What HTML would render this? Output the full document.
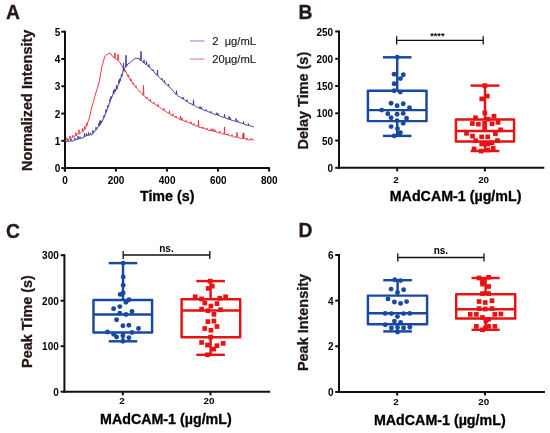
<!DOCTYPE html>
<html><head><meta charset="utf-8"><style>
html,body{margin:0;padding:0;background:#fff;}
svg{display:block;font-family:"Liberation Sans", sans-serif;will-change:transform;}
</style></head><body>
<svg width="550" height="433" viewBox="0 0 550 433">
<rect width="550" height="433" fill="#fff"/>
<text x="6.00" y="18.80" font-size="19.3" font-weight="bold" text-anchor="start" fill="#231815" stroke="#231815" stroke-width="0.3">A</text>
<text x="298.40" y="18.90" font-size="19.3" font-weight="bold" text-anchor="start" fill="#231815" stroke="#231815" stroke-width="0.3">B</text>
<text x="6.10" y="237.70" font-size="19.3" font-weight="bold" text-anchor="start" fill="#231815" stroke="#231815" stroke-width="0.3">C</text>
<text x="298.40" y="237.40" font-size="19.3" font-weight="bold" text-anchor="start" fill="#231815" stroke="#231815" stroke-width="0.3">D</text>
<line x1="65.00" y1="30.70" x2="65.00" y2="171.60" stroke="#111111" stroke-width="2" stroke-linecap="butt"/>
<line x1="64.00" y1="168.10" x2="269.90" y2="168.10" stroke="#111111" stroke-width="2" stroke-linecap="butt"/>
<line x1="61.30" y1="168.10" x2="65.00" y2="168.10" stroke="#111111" stroke-width="2" stroke-linecap="butt"/>
<text x="60.30" y="172.10" font-size="10" font-weight="bold" text-anchor="end" fill="#000000">0</text>
<line x1="61.30" y1="140.82" x2="65.00" y2="140.82" stroke="#111111" stroke-width="2" stroke-linecap="butt"/>
<text x="60.30" y="144.82" font-size="10" font-weight="bold" text-anchor="end" fill="#000000">1</text>
<line x1="61.30" y1="113.54" x2="65.00" y2="113.54" stroke="#111111" stroke-width="2" stroke-linecap="butt"/>
<text x="60.30" y="117.54" font-size="10" font-weight="bold" text-anchor="end" fill="#000000">2</text>
<line x1="61.30" y1="86.26" x2="65.00" y2="86.26" stroke="#111111" stroke-width="2" stroke-linecap="butt"/>
<text x="60.30" y="90.26" font-size="10" font-weight="bold" text-anchor="end" fill="#000000">3</text>
<line x1="61.30" y1="58.98" x2="65.00" y2="58.98" stroke="#111111" stroke-width="2" stroke-linecap="butt"/>
<text x="60.30" y="62.98" font-size="10" font-weight="bold" text-anchor="end" fill="#000000">4</text>
<line x1="61.30" y1="31.70" x2="65.00" y2="31.70" stroke="#111111" stroke-width="2" stroke-linecap="butt"/>
<text x="60.30" y="35.70" font-size="10" font-weight="bold" text-anchor="end" fill="#000000">5</text>
<line x1="64.80" y1="168.10" x2="64.80" y2="171.60" stroke="#111111" stroke-width="2" stroke-linecap="butt"/>
<text x="65.00" y="183.50" font-size="10" font-weight="bold" text-anchor="middle" fill="#000000">0</text>
<line x1="115.88" y1="168.10" x2="115.88" y2="171.60" stroke="#111111" stroke-width="2" stroke-linecap="butt"/>
<text x="116.08" y="183.50" font-size="10" font-weight="bold" text-anchor="middle" fill="#000000">200</text>
<line x1="166.95" y1="168.10" x2="166.95" y2="171.60" stroke="#111111" stroke-width="2" stroke-linecap="butt"/>
<text x="167.15" y="183.50" font-size="10" font-weight="bold" text-anchor="middle" fill="#000000">400</text>
<line x1="218.03" y1="168.10" x2="218.03" y2="171.60" stroke="#111111" stroke-width="2" stroke-linecap="butt"/>
<text x="218.23" y="183.50" font-size="10" font-weight="bold" text-anchor="middle" fill="#000000">600</text>
<line x1="269.10" y1="168.10" x2="269.10" y2="171.60" stroke="#111111" stroke-width="2" stroke-linecap="butt"/>
<text x="269.30" y="183.50" font-size="10" font-weight="bold" text-anchor="middle" fill="#000000">800</text>
<text x="167.20" y="201.00" font-size="14.3" font-weight="bold" text-anchor="middle" fill="#000000" stroke="#000000" stroke-width="0.3">Time (s)</text>
<text x="32.20" y="100.30" font-size="14.45" font-weight="bold" text-anchor="middle" fill="#231815" stroke="#231815" stroke-width="0.3" transform="rotate(-90 32.20 100.30)">Normalized Intensity</text>
<line x1="190.00" y1="41.00" x2="204.50" y2="41.00" stroke="#7d80cc" stroke-width="1" stroke-linecap="butt"/>
<line x1="190.00" y1="59.10" x2="204.50" y2="59.10" stroke="#f0707a" stroke-width="1" stroke-linecap="butt"/>
<text x="212.20" y="45.30" font-size="11.2" font-weight="normal" text-anchor="start" fill="#151515" stroke="#151515" stroke-width="0.12">2&#160;&#160;µg/mL</text>
<text x="212.20" y="63.00" font-size="11.2" font-weight="normal" text-anchor="start" fill="#151515" stroke="#151515" stroke-width="0.12">20µg/mL</text>
<polyline points="65.00,140.38 65.90,139.99 66.65,139.90 67.00,137.90 67.35,139.90 68.60,139.45 69.65,139.00 70.00,136.00 70.35,139.00 71.30,138.26 72.20,137.42 72.65,137.29 73.00,135.29 73.35,137.29 74.00,136.41 74.90,135.91 75.65,135.57 76.00,132.57 76.35,135.57 77.60,134.38 78.65,133.80 79.00,129.80 79.35,133.80 80.30,133.33 81.20,132.53 82.15,131.50 82.50,128.50 82.85,131.50 84.15,129.50 84.50,126.50 84.85,129.50 85.70,127.83 86.15,125.90 86.50,123.40 86.85,125.90 87.50,123.03 88.40,120.67 89.30,118.32 90.20,114.58 91.10,109.71 92.00,106.60 92.90,103.26 93.80,100.23 94.70,96.74 95.60,93.74 96.50,90.92 97.40,88.33 98.30,85.22 99.20,81.74 100.10,76.83 101.00,71.63 101.90,66.43 102.80,63.41 103.70,60.19 104.60,57.02 105.50,55.68 106.40,54.97 107.30,54.58 108.20,53.94 109.10,53.09 110.00,53.67 110.90,53.67 111.80,55.14 112.70,56.73 113.60,57.16 114.65,58.33 115.00,52.83 115.35,58.33 116.30,59.32 117.20,59.99 117.65,60.33 118.00,54.33 118.35,60.33 119.00,61.26 119.90,62.37 120.80,64.14 121.70,65.57 122.60,67.06 123.50,68.47 124.40,70.24 125.15,71.83 125.50,70.33 125.85,71.83 127.10,74.61 128.15,76.83 128.50,74.83 128.85,76.83 129.80,79.10 130.65,81.00 131.00,79.00 131.35,81.00 132.50,82.85 133.15,84.33 133.50,82.83 133.85,84.33 134.30,85.47 135.20,86.07 135.65,87.33 136.00,85.83 136.35,87.33 137.00,88.27 137.90,89.28 138.80,90.29 139.70,91.84 140.60,92.34 141.50,93.32 142.40,94.32 143.15,95.45 143.50,85.45 143.85,95.45 145.10,96.85 146.00,97.73 146.65,98.53 147.00,97.03 147.35,98.53 147.80,99.41 148.70,100.18 149.60,100.51 150.15,101.35 150.50,99.35 150.85,101.35 151.40,101.88 152.30,102.88 153.20,103.56 153.65,103.80 154.00,102.30 154.35,103.80 155.00,104.27 155.90,104.89 156.80,105.47 157.65,106.42 158.00,104.42 158.35,106.42 159.50,107.21 160.40,107.62 161.30,108.50 162.20,109.06 163.10,109.79 163.65,110.34 164.00,108.34 164.35,110.34 164.90,111.07 165.80,111.49 166.70,112.10 167.60,112.68 168.50,112.79 169.15,113.70 169.50,110.70 169.85,113.70 170.30,114.38 171.20,114.98 172.10,115.47 172.65,115.80 173.00,113.80 173.35,115.80 173.90,116.27 174.80,116.60 175.65,117.50 176.00,116.00 176.35,117.50 177.50,117.95 178.40,118.50 179.30,118.91 180.15,119.70 180.50,116.20 180.85,119.70 181.65,120.30 182.00,117.80 182.35,120.30 182.90,120.42 183.80,120.74 184.70,121.28 185.65,121.86 186.00,120.36 186.35,121.86 187.40,122.44 188.30,122.44 189.20,122.84 190.10,123.24 190.65,123.74 191.00,121.74 191.35,123.74 191.90,123.87 192.80,124.78 193.65,125.06 194.00,123.56 194.35,125.06 195.50,125.69 196.40,125.77 197.30,126.14 198.15,126.90 198.50,120.40 198.85,126.90 200.00,127.73 200.90,127.53 201.80,127.71 202.65,128.40 203.00,126.90 203.35,128.40 204.50,128.60 205.40,129.15 206.65,129.60 207.00,128.10 207.35,129.60 208.10,130.26 209.00,130.45 209.90,130.61 210.65,130.74 211.00,128.74 211.35,130.74 212.65,131.22 213.00,128.72 213.35,131.22 214.65,131.70 215.00,129.70 215.35,131.70 216.20,131.89 217.10,132.05 218.00,132.70 218.90,133.05 219.65,133.00 220.00,131.00 220.35,133.00 221.60,133.70 222.50,133.92 223.40,133.83 224.15,134.35 224.50,126.85 224.85,134.35 226.10,134.39 227.00,134.57 227.65,135.10 228.00,133.60 228.35,135.10 228.80,135.09 229.70,135.57 230.60,136.00 231.65,136.10 232.00,134.60 232.35,136.10 233.30,136.83 234.20,137.08 235.10,136.93 236.00,137.00 236.65,137.40 237.00,132.40 237.35,137.40 237.80,137.35 238.70,137.53 239.60,138.01 240.50,138.38 241.40,138.52 242.65,138.60 243.00,133.60 243.35,138.60 243.45,138.76 243.80,132.76 244.15,138.76 245.00,138.71 245.90,139.29 246.65,139.40 247.00,137.90 247.35,139.40 248.60,139.90 249.50,139.88 250.65,139.89 251.00,138.39 251.35,139.89 252.20,139.64 253.10,139.87 254.00,139.89" fill="none" stroke="#ee3340" stroke-width="1" stroke-linejoin="round"/>
<polyline points="65.00,141.59 65.90,141.60 66.80,141.58 67.65,141.29 68.00,139.79 68.35,141.29 69.50,141.47 70.65,141.07 71.00,139.07 71.35,141.07 72.20,141.25 73.10,140.77 74.00,140.68 74.65,140.10 75.00,138.10 75.35,140.10 75.80,139.84 76.70,139.41 77.65,139.20 78.00,136.20 78.35,139.20 79.65,138.60 80.00,136.60 80.35,138.60 81.20,138.09 82.10,138.25 83.00,137.75 84.15,136.90 84.50,133.40 84.85,136.90 85.70,136.12 86.15,136.02 86.50,133.52 86.85,136.02 87.50,135.41 88.15,135.41 88.50,132.41 88.85,135.41 89.30,135.46 90.15,134.89 90.50,132.89 90.85,134.89 92.00,134.84 92.65,133.33 93.00,130.33 93.35,133.33 93.80,132.25 94.70,131.67 95.65,129.75 96.00,127.25 96.35,129.75 97.40,127.79 98.65,126.00 99.00,123.00 99.35,126.00 99.65,124.57 100.00,120.57 100.35,124.57 100.65,123.14 101.00,120.64 101.35,123.14 101.90,121.72 102.80,120.17 103.65,117.33 104.00,115.33 104.35,117.33 105.65,112.44 106.00,109.44 106.35,112.44 107.65,107.14 108.00,105.14 108.35,107.14 109.10,104.12 109.65,101.43 110.00,98.93 110.35,101.43 110.65,98.90 111.00,96.40 111.35,98.90 111.80,97.36 112.70,95.15 113.15,93.75 113.50,90.25 113.85,93.75 114.65,91.50 115.00,89.00 115.35,91.50 116.15,89.25 116.50,85.25 116.85,89.25 118.10,85.28 118.65,83.25 119.00,80.25 119.35,83.25 119.45,81.15 119.80,78.65 120.15,81.15 121.15,76.58 121.50,74.08 121.85,76.58 122.60,73.37 123.15,70.92 123.50,62.92 123.85,70.92 124.40,68.61 125.65,66.75 126.00,55.25 126.35,66.75 127.10,65.56 128.00,63.79 128.90,63.46 129.80,62.86 130.70,62.15 131.60,61.01 132.50,60.30 133.40,59.75 134.30,59.33 135.20,58.26 136.10,58.19 137.00,58.37 137.90,58.57 138.80,58.14 139.70,59.86 140.65,60.75 141.00,51.25 141.35,60.75 142.40,61.84 143.65,62.83 144.00,59.83 144.35,62.83 145.10,63.88 146.15,64.75 146.50,61.25 146.85,64.75 147.80,65.71 148.65,67.00 149.00,64.50 149.35,67.00 150.50,68.25 151.40,69.53 152.65,71.00 153.00,69.50 153.35,71.00 154.10,71.78 155.00,73.34 155.90,73.92 157.15,75.50 157.50,70.00 157.85,75.50 158.60,76.67 159.50,77.73 160.40,78.37 161.65,80.00 162.00,78.50 162.35,80.00 163.10,81.39 164.15,82.50 164.50,80.50 164.85,82.50 165.80,84.04 166.70,84.35 167.60,85.56 168.15,86.19 168.50,84.19 168.85,86.19 169.40,87.07 170.30,88.05 171.20,88.62 172.10,89.90 173.00,90.75 173.90,92.23 174.80,92.84 175.70,93.94 176.15,94.64 176.50,90.64 176.85,94.64 177.50,95.56 178.40,96.25 179.30,96.49 180.20,97.13 181.10,97.93 182.00,98.39 182.65,99.10 183.00,97.10 183.35,99.10 183.80,99.59 184.70,100.04 185.60,100.77 186.65,101.70 187.00,99.70 187.35,101.70 188.30,102.57 189.20,103.02 190.10,103.44 191.00,103.71 191.90,104.29 193.15,105.25 193.50,99.75 193.85,105.25 194.60,105.70 195.50,106.45 196.40,106.89 197.30,107.29 198.20,107.71 199.10,108.23 199.65,108.50 200.00,106.50 200.35,108.50 201.15,109.10 201.50,107.10 201.85,109.10 202.70,109.57 203.60,110.13 204.50,110.43 205.65,110.90 206.00,109.40 206.35,110.90 207.20,111.48 208.10,111.80 209.00,111.76 209.90,112.49 210.65,112.86 211.00,111.36 211.35,112.86 212.60,113.41 213.50,113.98 214.40,114.19 215.30,114.61 216.15,114.81 216.50,112.81 216.85,114.81 217.65,115.32 218.00,113.32 218.35,115.32 218.90,115.86 219.80,115.83 220.70,116.49 221.60,116.83 222.50,117.03 223.40,117.56 224.15,117.62 224.50,114.12 224.85,117.62 226.10,118.24 227.00,118.33 227.90,119.14 228.65,119.32 229.00,116.32 229.35,119.32 230.15,119.85 230.50,117.85 230.85,119.85 231.50,120.30 232.40,120.58 233.30,120.46 234.20,121.16 235.10,121.29 235.65,121.50 236.00,118.50 236.35,121.50 236.90,121.71 237.65,122.10 238.00,120.60 238.35,122.10 239.60,122.68 240.50,123.04 241.40,122.90 242.30,123.34 243.15,124.03 243.50,121.53 243.85,124.03 245.00,124.40 245.90,124.98 246.80,125.20 247.70,125.04 248.15,125.58 248.50,123.58 248.85,125.58 249.50,125.67 250.40,125.80 251.30,126.12 252.20,126.51 253.10,126.67 254.00,126.94" fill="none" stroke="#3a3d9c" stroke-width="1" stroke-linejoin="round"/>
<line x1="339.00" y1="30.50" x2="339.00" y2="168.80" stroke="#111111" stroke-width="2" stroke-linecap="butt"/>
<line x1="338.00" y1="167.80" x2="544.30" y2="167.80" stroke="#111111" stroke-width="2" stroke-linecap="butt"/>
<line x1="335.20" y1="167.80" x2="339.00" y2="167.80" stroke="#111111" stroke-width="2" stroke-linecap="butt"/>
<text x="333.10" y="171.80" font-size="10" font-weight="bold" text-anchor="end" fill="#000000">0</text>
<line x1="335.20" y1="140.54" x2="339.00" y2="140.54" stroke="#111111" stroke-width="2" stroke-linecap="butt"/>
<text x="333.10" y="144.54" font-size="10" font-weight="bold" text-anchor="end" fill="#000000">50</text>
<line x1="335.20" y1="113.28" x2="339.00" y2="113.28" stroke="#111111" stroke-width="2" stroke-linecap="butt"/>
<text x="333.10" y="117.28" font-size="10" font-weight="bold" text-anchor="end" fill="#000000">100</text>
<line x1="335.20" y1="86.02" x2="339.00" y2="86.02" stroke="#111111" stroke-width="2" stroke-linecap="butt"/>
<text x="333.10" y="90.02" font-size="10" font-weight="bold" text-anchor="end" fill="#000000">150</text>
<line x1="335.20" y1="58.76" x2="339.00" y2="58.76" stroke="#111111" stroke-width="2" stroke-linecap="butt"/>
<text x="333.10" y="62.76" font-size="10" font-weight="bold" text-anchor="end" fill="#000000">200</text>
<line x1="335.20" y1="31.50" x2="339.00" y2="31.50" stroke="#111111" stroke-width="2" stroke-linecap="butt"/>
<text x="333.10" y="35.50" font-size="10" font-weight="bold" text-anchor="end" fill="#000000">250</text>
<line x1="397.20" y1="167.80" x2="397.20" y2="171.40" stroke="#111111" stroke-width="2" stroke-linecap="butt"/>
<text x="396.00" y="183.40" font-size="9.8" font-weight="bold" text-anchor="middle" fill="#000000">2</text>
<line x1="484.90" y1="167.80" x2="484.90" y2="171.40" stroke="#111111" stroke-width="2" stroke-linecap="butt"/>
<text x="483.60" y="183.40" font-size="9.8" font-weight="bold" text-anchor="middle" fill="#000000">20</text>
<text x="455.60" y="200.80" font-size="14.25" font-weight="bold" text-anchor="middle" fill="#000000" stroke="#000000" stroke-width="0.3">MAdCAM-1 (µg/mL)</text>
<text x="307.90" y="100.60" font-size="14.45" font-weight="bold" text-anchor="middle" fill="#231815" stroke="#231815" stroke-width="0.3" transform="rotate(-90 307.90 100.60)">Delay Time (s)</text>
<line x1="396.65" y1="40.45" x2="483.20" y2="40.45" stroke="#111111" stroke-width="1.3" stroke-linecap="butt"/>
<line x1="396.65" y1="36.35" x2="396.65" y2="44.55" stroke="#111111" stroke-width="1.3" stroke-linecap="butt"/>
<line x1="483.20" y1="36.35" x2="483.20" y2="44.55" stroke="#111111" stroke-width="1.3" stroke-linecap="butt"/>
<text x="437.32" y="38.90" font-size="9.2" font-weight="bold" text-anchor="middle" fill="#000000">****</text>
<line x1="397.20" y1="57.30" x2="397.20" y2="90.70" stroke="#1848a0" stroke-width="2.45" stroke-linecap="butt"/>
<line x1="397.20" y1="121.10" x2="397.20" y2="135.90" stroke="#1848a0" stroke-width="2.45" stroke-linecap="butt"/>
<line x1="382.95" y1="57.30" x2="411.45" y2="57.30" stroke="#1848a0" stroke-width="2.45" stroke-linecap="butt"/>
<line x1="382.95" y1="135.90" x2="411.45" y2="135.90" stroke="#1848a0" stroke-width="2.45" stroke-linecap="butt"/>
<rect x="367.90" y="90.70" width="58.60" height="30.40" fill="none" stroke="#1848a0" stroke-width="2.45" stroke-linejoin="round"/>
<line x1="367.90" y1="110.10" x2="426.50" y2="110.10" stroke="#1848a0" stroke-width="2.45" stroke-linecap="butt"/>
<circle cx="397.20" cy="57.30" r="2.45" fill="#1848a0"/>
<circle cx="394.10" cy="74.20" r="2.45" fill="#1848a0"/>
<circle cx="403.30" cy="74.80" r="2.45" fill="#1848a0"/>
<circle cx="400.50" cy="78.60" r="2.45" fill="#1848a0"/>
<circle cx="394.10" cy="83.70" r="2.45" fill="#1848a0"/>
<circle cx="394.10" cy="90.70" r="2.45" fill="#1848a0"/>
<circle cx="400.30" cy="92.10" r="2.45" fill="#1848a0"/>
<circle cx="391.10" cy="103.20" r="2.45" fill="#1848a0"/>
<circle cx="397.10" cy="105.80" r="2.45" fill="#1848a0"/>
<circle cx="403.20" cy="103.80" r="2.45" fill="#1848a0"/>
<circle cx="409.50" cy="107.80" r="2.45" fill="#1848a0"/>
<circle cx="381.70" cy="110.10" r="2.45" fill="#1848a0"/>
<circle cx="387.80" cy="113.70" r="2.45" fill="#1848a0"/>
<circle cx="397.10" cy="114.20" r="2.45" fill="#1848a0"/>
<circle cx="403.20" cy="113.40" r="2.45" fill="#1848a0"/>
<circle cx="391.10" cy="117.70" r="2.45" fill="#1848a0"/>
<circle cx="406.50" cy="118.20" r="2.45" fill="#1848a0"/>
<circle cx="397.10" cy="120.70" r="2.45" fill="#1848a0"/>
<circle cx="403.20" cy="123.20" r="2.45" fill="#1848a0"/>
<circle cx="391.10" cy="126.60" r="2.45" fill="#1848a0"/>
<circle cx="397.50" cy="128.80" r="2.45" fill="#1848a0"/>
<circle cx="400.40" cy="132.80" r="2.45" fill="#1848a0"/>
<circle cx="394.20" cy="135.90" r="2.45" fill="#1848a0"/>
<circle cx="398.50" cy="134.50" r="2.45" fill="#1848a0"/>
<line x1="485.00" y1="85.60" x2="485.00" y2="119.50" stroke="#e81212" stroke-width="2.45" stroke-linecap="butt"/>
<line x1="485.00" y1="141.50" x2="485.00" y2="151.00" stroke="#e81212" stroke-width="2.45" stroke-linecap="butt"/>
<line x1="470.60" y1="85.60" x2="499.40" y2="85.60" stroke="#e81212" stroke-width="2.45" stroke-linecap="butt"/>
<line x1="470.60" y1="151.00" x2="499.40" y2="151.00" stroke="#e81212" stroke-width="2.45" stroke-linecap="butt"/>
<rect x="455.90" y="119.50" width="58.20" height="22.00" fill="none" stroke="#e81212" stroke-width="2.45" stroke-linejoin="round"/>
<line x1="455.90" y1="131.00" x2="514.10" y2="131.00" stroke="#e81212" stroke-width="2.45" stroke-linecap="butt"/>
<rect x="482.55" y="83.25" width="4.7" height="4.7" fill="#e81212"/>
<rect x="484.95" y="93.75" width="4.7" height="4.7" fill="#e81212"/>
<rect x="479.45" y="96.55" width="4.7" height="4.7" fill="#e81212"/>
<rect x="482.45" y="110.55" width="4.7" height="4.7" fill="#e81212"/>
<rect x="473.15" y="115.45" width="4.7" height="4.7" fill="#e81212"/>
<rect x="491.65" y="113.85" width="4.7" height="4.7" fill="#e81212"/>
<rect x="485.85" y="116.85" width="4.7" height="4.7" fill="#e81212"/>
<rect x="495.65" y="119.95" width="4.7" height="4.7" fill="#e81212"/>
<rect x="470.05" y="121.15" width="4.7" height="4.7" fill="#e81212"/>
<rect x="476.05" y="121.85" width="4.7" height="4.7" fill="#e81212"/>
<rect x="482.25" y="121.05" width="4.7" height="4.7" fill="#e81212"/>
<rect x="489.75" y="121.45" width="4.7" height="4.7" fill="#e81212"/>
<rect x="482.35" y="125.25" width="4.7" height="4.7" fill="#e81212"/>
<rect x="498.25" y="127.45" width="4.7" height="4.7" fill="#e81212"/>
<rect x="464.15" y="130.95" width="4.7" height="4.7" fill="#e81212"/>
<rect x="470.15" y="133.75" width="4.7" height="4.7" fill="#e81212"/>
<rect x="479.35" y="134.55" width="4.7" height="4.7" fill="#e81212"/>
<rect x="485.35" y="134.55" width="4.7" height="4.7" fill="#e81212"/>
<rect x="493.05" y="131.25" width="4.7" height="4.7" fill="#e81212"/>
<rect x="473.35" y="138.35" width="4.7" height="4.7" fill="#e81212"/>
<rect x="479.35" y="141.65" width="4.7" height="4.7" fill="#e81212"/>
<rect x="485.35" y="141.65" width="4.7" height="4.7" fill="#e81212"/>
<rect x="489.75" y="140.55" width="4.7" height="4.7" fill="#e81212"/>
<rect x="495.15" y="138.35" width="4.7" height="4.7" fill="#e81212"/>
<rect x="471.75" y="146.55" width="4.7" height="4.7" fill="#e81212"/>
<rect x="478.85" y="148.75" width="4.7" height="4.7" fill="#e81212"/>
<rect x="485.35" y="147.65" width="4.7" height="4.7" fill="#e81212"/>
<rect x="490.85" y="146.05" width="4.7" height="4.7" fill="#e81212"/>
<line x1="64.40" y1="254.20" x2="64.40" y2="392.70" stroke="#111111" stroke-width="2" stroke-linecap="butt"/>
<line x1="63.40" y1="391.70" x2="270.20" y2="391.70" stroke="#111111" stroke-width="2" stroke-linecap="butt"/>
<line x1="60.60" y1="391.70" x2="64.40" y2="391.70" stroke="#111111" stroke-width="2" stroke-linecap="butt"/>
<text x="58.80" y="395.70" font-size="10" font-weight="bold" text-anchor="end" fill="#000000">0</text>
<line x1="60.60" y1="346.20" x2="64.40" y2="346.20" stroke="#111111" stroke-width="2" stroke-linecap="butt"/>
<text x="58.80" y="350.20" font-size="10" font-weight="bold" text-anchor="end" fill="#000000">100</text>
<line x1="60.60" y1="300.70" x2="64.40" y2="300.70" stroke="#111111" stroke-width="2" stroke-linecap="butt"/>
<text x="58.80" y="304.70" font-size="10" font-weight="bold" text-anchor="end" fill="#000000">200</text>
<line x1="60.60" y1="255.20" x2="64.40" y2="255.20" stroke="#111111" stroke-width="2" stroke-linecap="butt"/>
<text x="58.80" y="259.20" font-size="10" font-weight="bold" text-anchor="end" fill="#000000">300</text>
<line x1="122.80" y1="391.70" x2="122.80" y2="395.30" stroke="#111111" stroke-width="2" stroke-linecap="butt"/>
<text x="122.00" y="404.10" font-size="9.8" font-weight="bold" text-anchor="middle" fill="#000000">2</text>
<line x1="210.50" y1="391.70" x2="210.50" y2="395.30" stroke="#111111" stroke-width="2" stroke-linecap="butt"/>
<text x="209.00" y="404.10" font-size="9.8" font-weight="bold" text-anchor="middle" fill="#000000">20</text>
<text x="165.90" y="424.00" font-size="14.25" font-weight="bold" text-anchor="middle" fill="#000000" stroke="#000000" stroke-width="0.3">MAdCAM-1 (µg/mL)</text>
<text x="32.20" y="321.50" font-size="14.45" font-weight="bold" text-anchor="middle" fill="#231815" stroke="#231815" stroke-width="0.3" transform="rotate(-90 32.20 321.50)">Peak Time (s)</text>
<line x1="123.20" y1="255.00" x2="209.80" y2="255.00" stroke="#111111" stroke-width="1.3" stroke-linecap="butt"/>
<line x1="123.20" y1="250.90" x2="123.20" y2="259.10" stroke="#111111" stroke-width="1.3" stroke-linecap="butt"/>
<line x1="209.80" y1="250.90" x2="209.80" y2="259.10" stroke="#111111" stroke-width="1.3" stroke-linecap="butt"/>
<text x="166.50" y="251.80" font-size="10" font-weight="bold" text-anchor="middle" fill="#000000">ns.</text>
<line x1="123.00" y1="263.10" x2="123.00" y2="300.00" stroke="#1848a0" stroke-width="2.45" stroke-linecap="butt"/>
<line x1="123.00" y1="332.50" x2="123.00" y2="341.30" stroke="#1848a0" stroke-width="2.45" stroke-linecap="butt"/>
<line x1="108.70" y1="263.10" x2="137.30" y2="263.10" stroke="#1848a0" stroke-width="2.45" stroke-linecap="butt"/>
<line x1="108.70" y1="341.30" x2="137.30" y2="341.30" stroke="#1848a0" stroke-width="2.45" stroke-linecap="butt"/>
<rect x="93.50" y="300.00" width="58.60" height="32.50" fill="none" stroke="#1848a0" stroke-width="2.45" stroke-linejoin="round"/>
<line x1="93.50" y1="314.50" x2="152.10" y2="314.50" stroke="#1848a0" stroke-width="2.45" stroke-linecap="butt"/>
<circle cx="123.20" cy="263.10" r="2.45" fill="#1848a0"/>
<circle cx="123.20" cy="277.00" r="2.45" fill="#1848a0"/>
<circle cx="123.20" cy="285.20" r="2.45" fill="#1848a0"/>
<circle cx="120.20" cy="294.40" r="2.45" fill="#1848a0"/>
<circle cx="123.20" cy="293.00" r="2.45" fill="#1848a0"/>
<circle cx="125.90" cy="302.30" r="2.45" fill="#1848a0"/>
<circle cx="128.90" cy="299.80" r="2.45" fill="#1848a0"/>
<circle cx="113.60" cy="308.80" r="2.45" fill="#1848a0"/>
<circle cx="119.80" cy="306.60" r="2.45" fill="#1848a0"/>
<circle cx="119.80" cy="313.20" r="2.45" fill="#1848a0"/>
<circle cx="125.90" cy="314.50" r="2.45" fill="#1848a0"/>
<circle cx="132.00" cy="311.50" r="2.45" fill="#1848a0"/>
<circle cx="116.60" cy="319.70" r="2.45" fill="#1848a0"/>
<circle cx="122.90" cy="325.70" r="2.45" fill="#1848a0"/>
<circle cx="128.90" cy="325.20" r="2.45" fill="#1848a0"/>
<circle cx="138.50" cy="328.50" r="2.45" fill="#1848a0"/>
<circle cx="107.50" cy="332.00" r="2.45" fill="#1848a0"/>
<circle cx="132.00" cy="332.50" r="2.45" fill="#1848a0"/>
<circle cx="113.60" cy="334.30" r="2.45" fill="#1848a0"/>
<circle cx="116.60" cy="337.00" r="2.45" fill="#1848a0"/>
<circle cx="122.90" cy="335.70" r="2.45" fill="#1848a0"/>
<circle cx="128.90" cy="337.70" r="2.45" fill="#1848a0"/>
<circle cx="122.90" cy="341.30" r="2.45" fill="#1848a0"/>
<line x1="210.60" y1="281.10" x2="210.60" y2="299.30" stroke="#e81212" stroke-width="2.45" stroke-linecap="butt"/>
<line x1="210.60" y1="337.30" x2="210.60" y2="354.80" stroke="#e81212" stroke-width="2.45" stroke-linecap="butt"/>
<line x1="196.30" y1="281.10" x2="224.90" y2="281.10" stroke="#e81212" stroke-width="2.45" stroke-linecap="butt"/>
<line x1="196.30" y1="354.80" x2="224.90" y2="354.80" stroke="#e81212" stroke-width="2.45" stroke-linecap="butt"/>
<rect x="181.60" y="299.30" width="58.60" height="38.00" fill="none" stroke="#e81212" stroke-width="2.45" stroke-linejoin="round"/>
<line x1="181.60" y1="310.50" x2="240.20" y2="310.50" stroke="#e81212" stroke-width="2.45" stroke-linecap="butt"/>
<rect x="207.85" y="278.75" width="4.7" height="4.7" fill="#e81212"/>
<rect x="209.95" y="283.85" width="4.7" height="4.7" fill="#e81212"/>
<rect x="205.85" y="286.05" width="4.7" height="4.7" fill="#e81212"/>
<rect x="192.85" y="294.45" width="4.7" height="4.7" fill="#e81212"/>
<rect x="199.25" y="296.55" width="4.7" height="4.7" fill="#e81212"/>
<rect x="202.45" y="300.65" width="4.7" height="4.7" fill="#e81212"/>
<rect x="217.45" y="295.85" width="4.7" height="4.7" fill="#e81212"/>
<rect x="223.25" y="294.45" width="4.7" height="4.7" fill="#e81212"/>
<rect x="214.65" y="301.25" width="4.7" height="4.7" fill="#e81212"/>
<rect x="208.55" y="303.75" width="4.7" height="4.7" fill="#e81212"/>
<rect x="199.25" y="306.75" width="4.7" height="4.7" fill="#e81212"/>
<rect x="205.55" y="308.35" width="4.7" height="4.7" fill="#e81212"/>
<rect x="218.15" y="307.45" width="4.7" height="4.7" fill="#e81212"/>
<rect x="211.55" y="311.95" width="4.7" height="4.7" fill="#e81212"/>
<rect x="205.55" y="319.25" width="4.7" height="4.7" fill="#e81212"/>
<rect x="211.55" y="318.75" width="4.7" height="4.7" fill="#e81212"/>
<rect x="202.45" y="326.15" width="4.7" height="4.7" fill="#e81212"/>
<rect x="214.65" y="324.15" width="4.7" height="4.7" fill="#e81212"/>
<rect x="208.55" y="327.85" width="4.7" height="4.7" fill="#e81212"/>
<rect x="208.25" y="334.75" width="4.7" height="4.7" fill="#e81212"/>
<rect x="199.25" y="340.15" width="4.7" height="4.7" fill="#e81212"/>
<rect x="205.15" y="342.65" width="4.7" height="4.7" fill="#e81212"/>
<rect x="214.65" y="343.35" width="4.7" height="4.7" fill="#e81212"/>
<rect x="220.85" y="341.05" width="4.7" height="4.7" fill="#e81212"/>
<rect x="211.25" y="346.75" width="4.7" height="4.7" fill="#e81212"/>
<rect x="205.15" y="352.45" width="4.7" height="4.7" fill="#e81212"/>
<line x1="339.00" y1="254.00" x2="339.00" y2="392.90" stroke="#111111" stroke-width="2" stroke-linecap="butt"/>
<line x1="338.00" y1="391.90" x2="545.00" y2="391.90" stroke="#111111" stroke-width="2" stroke-linecap="butt"/>
<line x1="335.20" y1="391.90" x2="339.00" y2="391.90" stroke="#111111" stroke-width="2" stroke-linecap="butt"/>
<text x="333.50" y="395.90" font-size="10" font-weight="bold" text-anchor="end" fill="#000000">0</text>
<line x1="335.20" y1="346.27" x2="339.00" y2="346.27" stroke="#111111" stroke-width="2" stroke-linecap="butt"/>
<text x="333.50" y="350.27" font-size="10" font-weight="bold" text-anchor="end" fill="#000000">2</text>
<line x1="335.20" y1="300.63" x2="339.00" y2="300.63" stroke="#111111" stroke-width="2" stroke-linecap="butt"/>
<text x="333.50" y="304.63" font-size="10" font-weight="bold" text-anchor="end" fill="#000000">4</text>
<line x1="335.20" y1="255.00" x2="339.00" y2="255.00" stroke="#111111" stroke-width="2" stroke-linecap="butt"/>
<text x="333.50" y="259.00" font-size="10" font-weight="bold" text-anchor="end" fill="#000000">6</text>
<line x1="397.20" y1="391.90" x2="397.20" y2="395.50" stroke="#111111" stroke-width="2" stroke-linecap="butt"/>
<text x="396.10" y="405.20" font-size="9.8" font-weight="bold" text-anchor="middle" fill="#000000">2</text>
<line x1="485.00" y1="391.90" x2="485.00" y2="395.50" stroke="#111111" stroke-width="2" stroke-linecap="butt"/>
<text x="483.70" y="405.20" font-size="9.8" font-weight="bold" text-anchor="middle" fill="#000000">20</text>
<text x="439.80" y="424.50" font-size="14.25" font-weight="bold" text-anchor="middle" fill="#000000" stroke="#000000" stroke-width="0.3">MAdCAM-1 (µg/mL)</text>
<text x="307.50" y="322.50" font-size="14.45" font-weight="bold" text-anchor="middle" fill="#231815" stroke="#231815" stroke-width="0.3" transform="rotate(-90 307.50 322.50)">Peak Intensity</text>
<line x1="397.80" y1="257.50" x2="484.00" y2="257.50" stroke="#111111" stroke-width="1.3" stroke-linecap="butt"/>
<line x1="397.80" y1="253.40" x2="397.80" y2="261.60" stroke="#111111" stroke-width="1.3" stroke-linecap="butt"/>
<line x1="484.00" y1="253.40" x2="484.00" y2="261.60" stroke="#111111" stroke-width="1.3" stroke-linecap="butt"/>
<text x="440.90" y="254.10" font-size="10" font-weight="bold" text-anchor="middle" fill="#000000">ns.</text>
<line x1="397.60" y1="280.20" x2="397.60" y2="295.60" stroke="#1848a0" stroke-width="2.45" stroke-linecap="butt"/>
<line x1="397.60" y1="324.30" x2="397.60" y2="331.40" stroke="#1848a0" stroke-width="2.45" stroke-linecap="butt"/>
<line x1="383.30" y1="280.20" x2="411.90" y2="280.20" stroke="#1848a0" stroke-width="2.45" stroke-linecap="butt"/>
<line x1="383.30" y1="331.40" x2="411.90" y2="331.40" stroke="#1848a0" stroke-width="2.45" stroke-linecap="butt"/>
<rect x="367.90" y="295.60" width="59.20" height="28.70" fill="none" stroke="#1848a0" stroke-width="2.45" stroke-linejoin="round"/>
<line x1="367.90" y1="313.30" x2="427.10" y2="313.30" stroke="#1848a0" stroke-width="2.45" stroke-linecap="butt"/>
<circle cx="394.80" cy="279.80" r="2.45" fill="#1848a0"/>
<circle cx="400.60" cy="280.60" r="2.45" fill="#1848a0"/>
<circle cx="391.10" cy="289.10" r="2.45" fill="#1848a0"/>
<circle cx="403.60" cy="289.80" r="2.45" fill="#1848a0"/>
<circle cx="397.50" cy="292.50" r="2.45" fill="#1848a0"/>
<circle cx="388.00" cy="298.90" r="2.45" fill="#1848a0"/>
<circle cx="394.40" cy="302.00" r="2.45" fill="#1848a0"/>
<circle cx="400.60" cy="303.40" r="2.45" fill="#1848a0"/>
<circle cx="406.60" cy="301.60" r="2.45" fill="#1848a0"/>
<circle cx="385.20" cy="313.40" r="2.45" fill="#1848a0"/>
<circle cx="391.40" cy="313.60" r="2.45" fill="#1848a0"/>
<circle cx="403.60" cy="313.60" r="2.45" fill="#1848a0"/>
<circle cx="409.80" cy="313.40" r="2.45" fill="#1848a0"/>
<circle cx="397.50" cy="316.60" r="2.45" fill="#1848a0"/>
<circle cx="394.40" cy="321.10" r="2.45" fill="#1848a0"/>
<circle cx="400.60" cy="322.50" r="2.45" fill="#1848a0"/>
<circle cx="385.20" cy="324.80" r="2.45" fill="#1848a0"/>
<circle cx="391.40" cy="328.00" r="2.45" fill="#1848a0"/>
<circle cx="397.50" cy="327.50" r="2.45" fill="#1848a0"/>
<circle cx="403.60" cy="328.00" r="2.45" fill="#1848a0"/>
<circle cx="409.80" cy="327.30" r="2.45" fill="#1848a0"/>
<circle cx="397.50" cy="332.00" r="2.45" fill="#1848a0"/>
<line x1="485.60" y1="278.00" x2="485.60" y2="294.30" stroke="#e81212" stroke-width="2.45" stroke-linecap="butt"/>
<line x1="485.60" y1="318.50" x2="485.60" y2="329.80" stroke="#e81212" stroke-width="2.45" stroke-linecap="butt"/>
<line x1="471.50" y1="278.00" x2="499.70" y2="278.00" stroke="#e81212" stroke-width="2.45" stroke-linecap="butt"/>
<line x1="471.50" y1="329.80" x2="499.70" y2="329.80" stroke="#e81212" stroke-width="2.45" stroke-linecap="butt"/>
<rect x="456.20" y="294.30" width="59.00" height="24.20" fill="none" stroke="#e81212" stroke-width="2.45" stroke-linejoin="round"/>
<line x1="456.20" y1="309.30" x2="515.20" y2="309.30" stroke="#e81212" stroke-width="2.45" stroke-linecap="butt"/>
<rect x="476.75" y="275.65" width="4.7" height="4.7" fill="#e81212"/>
<rect x="486.25" y="274.95" width="4.7" height="4.7" fill="#e81212"/>
<rect x="480.15" y="278.75" width="4.7" height="4.7" fill="#e81212"/>
<rect x="480.15" y="281.75" width="4.7" height="4.7" fill="#e81212"/>
<rect x="486.25" y="284.15" width="4.7" height="4.7" fill="#e81212"/>
<rect x="480.15" y="291.25" width="4.7" height="4.7" fill="#e81212"/>
<rect x="486.25" y="291.25" width="4.7" height="4.7" fill="#e81212"/>
<rect x="476.75" y="299.15" width="4.7" height="4.7" fill="#e81212"/>
<rect x="482.85" y="300.15" width="4.7" height="4.7" fill="#e81212"/>
<rect x="489.65" y="298.35" width="4.7" height="4.7" fill="#e81212"/>
<rect x="476.75" y="306.25" width="4.7" height="4.7" fill="#e81212"/>
<rect x="482.85" y="306.65" width="4.7" height="4.7" fill="#e81212"/>
<rect x="489.65" y="306.25" width="4.7" height="4.7" fill="#e81212"/>
<rect x="467.85" y="312.05" width="4.7" height="4.7" fill="#e81212"/>
<rect x="474.05" y="312.05" width="4.7" height="4.7" fill="#e81212"/>
<rect x="492.45" y="312.05" width="4.7" height="4.7" fill="#e81212"/>
<rect x="498.55" y="311.65" width="4.7" height="4.7" fill="#e81212"/>
<rect x="480.15" y="315.15" width="4.7" height="4.7" fill="#e81212"/>
<rect x="486.25" y="316.95" width="4.7" height="4.7" fill="#e81212"/>
<rect x="483.55" y="318.55" width="4.7" height="4.7" fill="#e81212"/>
<rect x="474.05" y="324.05" width="4.7" height="4.7" fill="#e81212"/>
<rect x="486.25" y="324.05" width="4.7" height="4.7" fill="#e81212"/>
<rect x="492.45" y="324.05" width="4.7" height="4.7" fill="#e81212"/>
<rect x="480.15" y="327.45" width="4.7" height="4.7" fill="#e81212"/>
<rect x="483.15" y="325.65" width="4.7" height="4.7" fill="#e81212"/>
</svg>
</body></html>
